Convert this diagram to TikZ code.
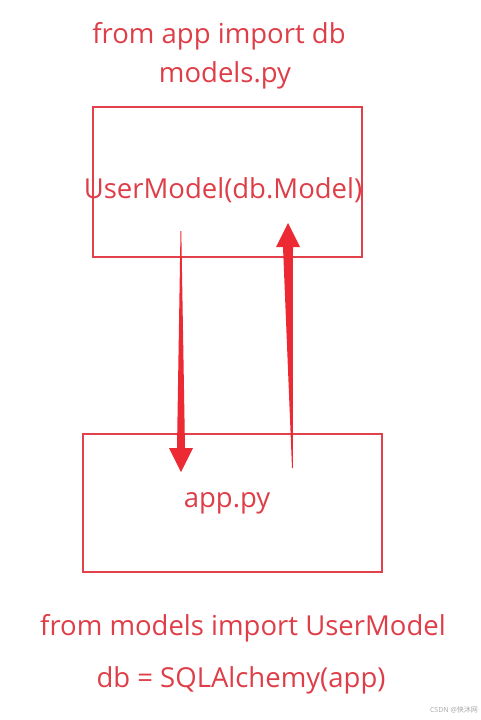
\documentclass[tikz,border=0pt]{standalone}
\usepackage{fontspec}
\setmainfont{Open Sans}
\newfontfamily\cjk{Noto Sans CJK SC}
\usepackage{tikz}
\usetikzlibrary{calc,positioning}
\definecolor{codered}{RGB}{222,62,72}
\definecolor{boxred}{RGB}{226,64,74}
\definecolor{arrowred}{RGB}{236,42,52}
\tikzset{
  filebox/.style={draw=boxred,line width=2.2pt,inner sep=0pt},
  code/.style={text=codered,font=\fontsize{27.5}{32}\selectfont,anchor=base,inner sep=0pt},
  taper/.style={fill=arrowred,draw=none}
}
\begin{document}
\begin{tikzpicture}[x=1pt,y=-1pt]
    \useasboundingbox (0,0) rectangle (481,720);
    % models.py
    \node[code] (imp) at (219,43) {from app import db};
    \node[code] (mfile) at (225,82) {models.py};
    \node[filebox,minimum width=269pt,minimum height=150pt] (models) at (227.5,182) {};
    \node[code] (user) at (223,198) {UserModel(db.Model)};
    % app.py
    \node[filebox,minimum width=299pt,minimum height=138pt] (app) at (232.5,503) {};
    \node[code] (afile) at (227,507) {app.py};
    \node[code] (impuser) at (243,635) {from models import UserModel};
    \node[code] (dbline) at (241,687) {db = SQLAlchemy(app)};
    % arrows
    \coordinate (dtop) at (180.5,231);
    \coordinate (dtip) at (181,472);
    \coordinate (ubot) at (292,468);
    \coordinate (utip) at (288,223);
    \fill[taper] (dtop) -- ($(dtop)+(0.8,0)$) -- ($(dtip)+(4,-24)$) -- ($(dtip)+(12,-24)$)
        -- (dtip) -- ($(dtip)+(-12,-24)$) -- ($(dtip)+(-4,-24)$) -- cycle;
    \fill[taper] (ubot) -- ($(ubot)+(0.8,0)$) -- ($(utip)+(5,24)$) -- ($(utip)+(12,24)$)
        -- (utip) -- ($(utip)+(-12,24)$) -- ($(utip)+(-5,24)$) -- cycle;
    \node[anchor=base east,inner sep=0pt,text=black!35,font=\fontsize{7}{8}\selectfont] (mark) at (478,712) {CSDN @{\cjk 快沐网}};
\end{tikzpicture}
\end{document}
